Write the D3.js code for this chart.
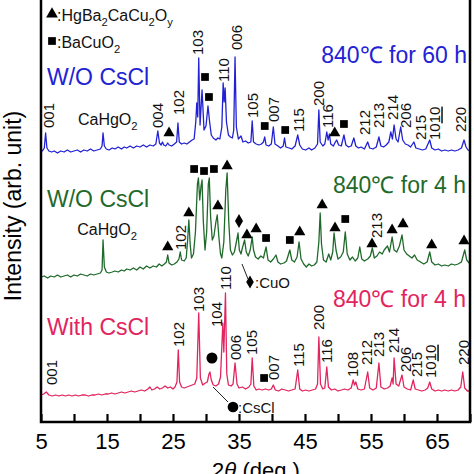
<!DOCTYPE html>
<head>
  <meta charset="utf-8">
  <style>
    body { margin: 0; background: #fff; }
    svg text { font-family: "Liberation Sans", Arial, sans-serif; }
  </style>
</head>
<body>
  <div id="viz"></div>
  <script src="https://cdn.jsdelivr.net/npm/d3@7"></script>
  <script>
    // ---- data (2theta, intensity in arb. units, traces already offset) ----
    let blue = [[5,270],[5.3,272],[5.5,274],[5.7,289],[5.9,274],[6.2,271],[6.6,270],[7,271],[7.5,269],[8,271],[8.5,270],[9,272],[9.5,270],[10,271],[10.5,272],[11,270],[11.5,272],[12,271],[12.5,273],[13,271],[13.5,272],[14,273],[14.25,276],[14.4,289],[14.6,276],[14.9,273],[15.3,272],[15.8,274],[16.2,273],[16.7,275],[17.2,273],[17.6,275],[18,274],[18.5,276],[19,274],[19.5,276],[20,275],[20.5,277],[21,275],[21.5,277],[22,276],[22.4,278],[22.7,291],[22.95,279],[23.2,277],[23.4,280],[23.6,277],[23.9,276],[24.2,279],[24.4,277],[24.8,276],[25.2,278],[25.55,280],[25.75,299],[25.95,280],[26.3,278],[26.7,279],[27.1,278],[27.5,280],[27.9,282],[28.2,283],[28.45,300],[28.6,319],[28.75,305],[28.9,364],[29.1,297],[29.4,332],[29.7,292],[30.0,296],[30.3,316],[30.55,300],[30.8,287],[31.1,284],[31.5,282],[31.8,284],[32.1,283],[32.4,295],[32.6,339],[32.75,320],[32.9,334],[33.1,300],[33.4,287],[33.7,285],[34.0,284],[34.2,292],[34.4,365],[34.6,295],[34.9,283],[35.3,286],[35.6,280],[36.0,281],[36.4,279],[36.8,280],[37.0,301],[37.2,280],[37.6,278],[38.0,277],[38.4,278],[38.7,280],[38.9,285],[39.1,277],[39.5,276],[39.9,278],[40.2,295],[40.45,278],[40.9,276],[41.3,274],[41.7,276],[41.9,284],[42.1,275],[42.6,274],[43.0,273],[43.5,276],[43.9,287],[44.2,277],[44.6,273],[45.1,272],[45.6,274],[46.0,272],[46.5,274],[46.9,278],[47.1,312],[47.3,280],[47.7,276],[48.0,278],[48.3,290],[48.5,282],[48.7,288],[48.9,278],[49.3,276],[49.6,280],[49.8,282],[50.1,277],[50.5,276],[50.9,287],[51.2,277],[51.6,275],[52.0,276],[52.4,284],[52.7,276],[53.1,274],[53.5,275],[54.0,273],[54.5,280],[54.8,274],[55.3,273],[55.8,275],[56.2,285],[56.5,276],[56.9,275],[57.3,277],[57.7,280],[58.0,290],[58.25,283],[58.5,297],[58.8,283],[59.1,280],[59.5,295],[59.8,282],[60.2,278],[60.6,277],[61.0,275],[61.5,280],[61.8,274],[62.3,273],[62.8,272],[63.3,273],[63.9,282],[64.2,274],[64.7,272],[65.2,273],[65.7,271],[66.2,272],[66.7,271],[67.2,272],[67.7,271],[68.2,272],[68.7,274],[69.1,282],[69.4,275],[69.7,272],[70,271]];

    let green = [[5,145],[5.5,146],[6,144],[6.5,146],[7,145],[7.5,147],[8,145],[8.5,146],[9,147],[9.5,145],[10,147],[10.5,146],[11,148],[11.5,147],[12,146],[12.5,148],[13,147],[13.5,148],[14,149],[14.25,152],[14.4,182],[14.6,155],[14.9,150],[15.3,149],[15.8,150],[16.2,151],[16.7,150],[17.2,152],[17.6,151],[18,153],[18.5,152],[19,154],[19.5,152],[20,155],[20.5,153],[21,156],[21.5,154],[22,156],[22.5,155],[22.9,158],[23.3,156],[23.7,158],[24.0,160],[24.2,167],[24.4,159],[24.8,157],[25.2,158],[25.6,160],[25.9,163],[26.1,170],[26.3,162],[26.7,161],[27.0,164],[27.2,180],[27.4,202],[27.6,178],[27.8,164],[28.1,168],[28.4,190],[28.7,238],[28.85,244],[29.05,222],[29.25,236],[29.4,242],[29.6,200],[29.85,172],[30.1,190],[30.35,238],[30.5,244],[30.7,205],[30.95,182],[31.2,186],[31.5,200],[31.7,207],[31.95,185],[32.2,168],[32.4,164],[32.7,180],[33.0,232],[33.2,249],[33.45,200],[33.7,172],[34.0,167],[34.3,170],[34.6,180],[34.85,189],[35.05,172],[35.3,168],[35.55,175],[35.85,182],[36.1,170],[36.4,166],[36.7,172],[37.0,185],[37.2,172],[37.5,165],[37.9,163],[38.3,166],[38.7,164],[39.1,175],[39.4,162],[39.8,160],[40.2,163],[40.6,167],[40.9,160],[41.3,158],[41.8,159],[42.2,161],[42.7,172],[43.0,162],[43.4,160],[43.8,165],[44.1,180],[44.4,163],[44.8,158],[45.2,155],[45.6,158],[46.0,156],[46.4,157],[46.8,160],[47.1,180],[47.3,209],[47.5,178],[47.8,162],[48.2,160],[48.6,168],[48.9,162],[49.2,170],[49.4,189],[49.7,172],[50.0,163],[50.4,165],[50.8,170],[51.1,190],[51.4,168],[51.8,162],[52.2,165],[52.6,161],[53.0,164],[53.3,175],[53.6,163],[54.0,161],[54.5,163],[54.9,166],[55.2,174],[55.5,164],[55.9,166],[56.3,170],[56.7,168],[57.0,172],[57.5,176],[57.8,170],[58.2,185],[58.5,172],[58.9,170],[59.3,176],[59.7,187],[60.0,172],[60.4,168],[60.8,166],[61.2,164],[61.6,167],[62.0,162],[62.5,160],[63.0,158],[63.5,160],[63.9,170],[64.2,160],[64.7,157],[65.2,158],[65.7,156],[66.2,157],[66.7,156],[67.2,158],[67.7,157],[68.2,158],[68.7,160],[69.2,172],[69.5,162],[70,158]];

    let pink = [[5,27],[5.4,28],[5.8,30],[6.2,27],[6.7,26],[7.2,27],[7.7,26],[8.2,27],[8.7,26],[9.2,27],[9.7,26],[10.2,27],[10.7,26],[11.2,27],[11.7,27],[12.2,26],[12.7,27],[13.2,27],[13.7,28],[14.2,27],[14.7,28],[15.2,28],[15.7,29],[16.2,28],[16.7,29],[17.2,30],[17.7,29],[18.2,30],[18.7,31],[19.2,30],[19.7,31],[20.2,32],[20.7,31],[21.2,33],[21.5,35],[21.8,32],[22.2,33],[22.6,35],[23.0,33],[23.4,34],[23.8,36],[24.2,34],[24.6,35],[25.0,33],[25.3,35],[25.6,40],[25.8,72],[26.0,40],[26.3,35],[26.7,34],[27.1,35],[27.5,36],[27.9,37],[28.3,38],[28.6,44],[28.9,109],[29.15,44],[29.5,37],[29.9,39],[30.2,40],[30.45,48],[30.6,50],[30.8,42],[31.1,37],[31.5,36],[31.9,38],[32.2,45],[32.55,99],[32.7,70],[32.95,129],[33.15,48],[33.4,37],[33.8,36],[34.1,38],[34.4,59],[34.7,38],[35.0,34],[35.5,35],[36.0,33],[36.5,35],[36.8,38],[37.0,64],[37.25,36],[37.6,32],[38.0,33],[38.5,32],[39.0,33],[39.5,32],[39.9,33],[40.2,37],[40.5,32],[41.0,31],[41.5,33],[42.0,32],[42.5,31],[43.0,32],[43.5,33],[43.9,52],[44.2,33],[44.6,31],[45.1,32],[45.6,31],[46.1,32],[46.6,33],[46.9,38],[47.1,85],[47.35,38],[47.7,33],[48.0,34],[48.3,55],[48.55,35],[49.0,32],[49.5,33],[50.0,31],[50.5,32],[51.0,33],[51.5,32],[52.0,34],[52.3,42],[52.5,37],[52.7,40],[53.0,33],[53.5,32],[54.0,33],[54.5,50],[54.8,34],[55.3,32],[55.8,34],[56.2,59],[56.5,35],[57.0,33],[57.5,34],[57.9,36],[58.2,44],[58.35,38],[58.5,64],[58.8,38],[59.2,36],[59.7,47],[60.0,35],[60.5,33],[61.0,32],[61.4,42],[61.7,33],[62.2,32],[62.7,31],[63.2,32],[63.6,34],[63.9,40],[64.2,33],[64.7,31],[65.2,32],[65.7,31],[66.2,32],[66.7,31],[67.2,32],[67.7,31],[68.2,32],[68.6,35],[68.9,50],[69.2,34],[69.6,31],[70,31]];

    // peak index labels: [text, 2theta, intensity where label starts]
    let blueLabels = [['001',6.2,294],['004',22.7,294],['102',25.8,307],['103',28.8,367],['110',32.7,340],['006',34.7,372],['105',37.1,304],['007',40.3,300],['115',44.1,290],['200',47.1,316],['116',48.5,294],['212',54.1,287],['213',56.1,294],['214',58.3,302],['206',60.3,294],['215',62.6,282],['1010',64.7,282],['220',68.6,290]];
    let greenLabels = [['102',26.1,172],['213',55.8,184]];
    let pinkLabels = [['001',6.7,37],['102',25.8,75],['103',28.9,110],['104',31.7,95],['110',33.0,132],['006',34.5,62],['105',37.0,67],['007',40.3,42],['115',44.1,55],['200',47.1,92],['116',48.3,59],['108',52.3,45],['212',54.4,57],['213',56.2,65],['214',58.5,69],['206',60.3,50],['215',62.0,45],['1010',64.1,44],['220',69.1,57]];

    // phase markers: [kind, 2theta, intensity]
    let blueMarks = [['tri',24.4,289],['sq',29.85,345],['sq',30.45,325],['sq',38.9,296],['sq',42.0,292],['tri',49.5,289],['sq',50.9,298]];
    let greenMarks = [['tri',24.2,175],['tri',27.4,209],['sq',28.2,253],['sq',29.7,251],['sq',31.2,253],['tri',31.8,216],['tri',33.2,256],['dia',35.0,201],['tri',36.2,187],['tri',37.6,193],['sq',39.1,184],['sq',42.7,182],['tri',44.2,190],['tri',47.6,217],['tri',49.55,194],['sq',51.1,203],['tri',55.15,178],['tri',58.2,192],['tri',59.85,198],['tri',64.2,177],['tri',69.1,181]];
    let pinkMarks = [['dot',30.9,64],['sq',38.8,44]];

    let xTicks = [5,10,15,20,25,30,35,40,45,50,55,60,65,70];

    let colBlue = '#2222d4', colGreen = '#1f6a2b', colPink = '#e2245f';

    let W = 474, H = 474;
    let x = d3.scaleLinear().domain([5, 70]).range([41, 470]);
    let y = d3.scaleLinear().domain([0, 440]).range([422, -18]);

    let svg = d3.select('#viz').append('svg')
      .attr('width', W).attr('height', H);

    let line = d3.line().x(d => x(d[0])).y(d => y(d[1]));

    // traces
    [[blue, colBlue], [green, colGreen], [pink, colPink]].forEach(([data, c]) => {
      svg.append('path')
        .datum(data)
        .attr('d', line)
        .attr('fill', 'none')
        .attr('stroke', c)
        .attr('stroke-width', 1.3)
        .attr('stroke-linejoin', 'round');
    });

    // rotated hkl labels
    function hkl(labels) {
      let t = svg.append('g').selectAll('text')
        .data(labels)
        .join('text')
        .attr('transform', d => `translate(${x(d[1])},${y(d[2])}) rotate(-90)`)
        .attr('dy', '0.35em')
        .attr('font-size', 15)
        .attr('fill', '#111');
      t.each(function (d) {
        let s = d3.select(this);
        if (d[0] === '1010') {
          s.append('tspan').text('10');
          s.append('tspan').text('10').style('text-decoration', 'underline');
        } else {
          s.text(d[0]);
        }
      });
    }
    hkl(blueLabels);
    hkl(greenLabels);
    hkl(pinkLabels);

    // markers
    let shapes = { tri: [d3.symbolTriangle, 55], sq: [d3.symbolSquare, 60], dia: [d3.symbolDiamond, 55], dot: [d3.symbolCircle, 95] };
    function marks(m) {
      svg.append('g').selectAll('path')
        .data(m)
        .join('path')
        .attr('transform', d => `translate(${x(d[1])},${y(d[2])})`)
        .attr('d', d => d3.symbol(shapes[d[0]][0], shapes[d[0]][1])())
        .attr('fill', '#000');
    }
    marks(blueMarks);
    marks(greenMarks);
    marks(pinkMarks);

    // compound labels
    function chem(parts, px, py, size) {
      let t = svg.append('text').attr('x', px).attr('y', py)
        .attr('font-size', size).attr('fill', '#111');
      parts.forEach(p => {
        if (p[1]) {
          t.append('tspan').text(p[0]).attr('font-size', size * 0.7).attr('dy', size * 0.3);
        } else {
          t.append('tspan').text(p[0]).attr('dy', p[2] ? -size * 0.3 : null);
        }
      });
      return t;
    }
    chem([['CaHgO'], ['2', 1]], x(10.6), y(297), 16);
    chem([['CaHgO'], ['2', 1]], x(10.5), y(187), 16);

    // legend
    svg.append('path').attr('transform', 'translate(52,14)').attr('d', d3.symbol(d3.symbolTriangle, 60)());
    chem([[':HgBa'], ['2', 1], ['CaCu', 0, 1], ['2', 1], ['O', 0, 1], ['y', 1]], 57, 21, 16);
    svg.append('path').attr('transform', 'translate(52,41)').attr('d', d3.symbol(d3.symbolSquare, 60)());
    chem([[':BaCuO'], ['2', 1]], 57, 48, 16);

    svg.append('line').attr('x1', 242).attr('y1', 264).attr('x2', 248).attr('y2', 279)
      .attr('stroke', '#222').attr('stroke-width', 1);
    svg.append('path').attr('transform', 'translate(250,282)').attr('d', d3.symbol(d3.symbolDiamond, 50)());
    svg.append('text').attr('x', 255).attr('y', 288).attr('font-size', 15).attr('fill', '#111').text(':CuO');

    svg.append('line').attr('x1', 213).attr('y1', 387).attr('x2', 228).attr('y2', 402)
      .attr('stroke', '#222').attr('stroke-width', 1);
    svg.append('path').attr('transform', 'translate(233,407)').attr('d', d3.symbol(d3.symbolCircle, 90)());
    svg.append('text').attr('x', 238).attr('y', 413).attr('font-size', 15).attr('fill', '#111').text(':CsCl');

    // sample titles
    let titles = [
      ['W/O CsCl', 47, 85, 'start', colBlue],
      ['840\u2103 for 60 h', 467, 63, 'end', colBlue],
      ['W/O CsCl', 47, 207, 'start', colGreen],
      ['840\u2103 for 4 h', 466, 193, 'end', colGreen],
      ['With CsCl', 47, 335, 'start', colPink],
      ['840\u2103 for 4 h', 466, 307, 'end', colPink]
    ];
    svg.append('g').selectAll('text').data(titles).join('text')
      .attr('x', d => d[1]).attr('y', d => d[2])
      .attr('text-anchor', d => d[3])
      .attr('fill', d => d[4])
      .attr('font-size', 23)
      .text(d => d[0]);

    // x axis
    let ax = svg.append('g')
      .attr('transform', 'translate(0,422)')
      .call(d3.axisBottom(x).tickValues(xTicks).tickSizeInner(-8).tickSizeOuter(0).tickPadding(11)
        .tickFormat(d => ((d - 5) % 10 === 0 && d < 70) ? d : ''));
    ax.select('.domain').remove();
    ax.selectAll('.tick line').attr('stroke', '#000').attr('stroke-width', 2.2);
    ax.selectAll('.tick text').attr('font-size', 22).attr('fill', '#000')
      .style('font-family', '"Liberation Sans", Arial, sans-serif');

    // frame
    svg.append('path')
      .attr('d', 'M41,-5V422H470V-5')
      .attr('fill', 'none')
      .attr('stroke', '#000')
      .attr('stroke-width', 2.5);

    // axis titles
    let xt = svg.append('text').attr('x', 256).attr('y', 478).attr('text-anchor', 'middle')
      .attr('font-size', 22).attr('fill', '#000');
    xt.append('tspan').text('2');
    xt.append('tspan').text('\u03b8').style('font-style', 'italic');
    xt.append('tspan').text(' (deg.)');

    svg.append('text')
      .attr('transform', 'translate(21,206) rotate(-90)')
      .attr('text-anchor', 'middle')
      .attr('font-size', 23)
      .attr('fill', '#000')
      .text('Intensity (arb. unit)');
  </script>
</body>
</html>
